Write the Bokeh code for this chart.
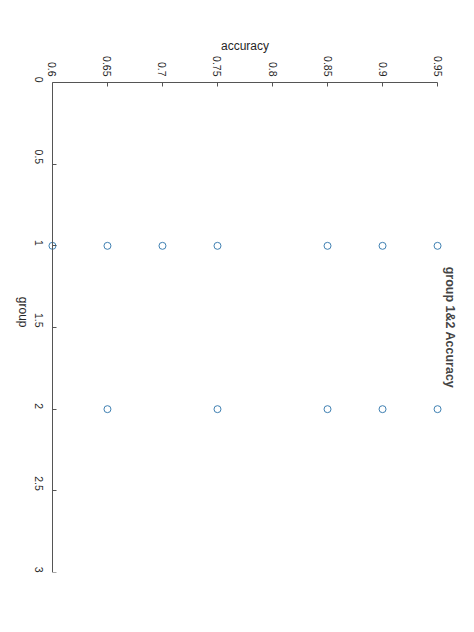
import math
from bokeh.plotting import figure
from bokeh.models import Range1d, FixedTicker, CustomJSTickFormatter, LinearAxis
from bokeh.embed import file_html
from bokeh.resources import INLINE

# accuracy values per group
group_1 = [0.6, 0.65, 0.7, 0.75, 0.85, 0.9, 0.95]
group_2 = [0.65, 0.75, 0.85, 0.9, 0.95]
acc_ticks = [0.6, 0.65, 0.7, 0.75, 0.8, 0.85, 0.9, 0.95]
group_ticks = [0, 0.5, 1, 1.5, 2, 2.5, 3]

FONT = "Liberation Sans"
AXIS_COLOR = "#555555"
MARKER = "#3f80b2"

# small padding so the markers sitting on 0.6 / 0.95 are not cut by the frame
pad = 0.0045

# the original is a matlab figure turned on its side: accuracy runs along the top,
# group runs downwards on the left
p = figure(frame_width=395, frame_height=490, output_backend="svg", toolbar_location=None,
           x_range=Range1d(0.6 - pad, 0.95 + pad), y_range=Range1d(3, 0),
           x_axis_location="above", title="group 1&2 Accuracy", title_location="right",
           min_border_left=47, min_border_right=10, min_border_top=82, min_border_bottom=40)

p.scatter(group_1, [1] * len(group_1), marker="circle", size=7, fill_color=None,
          line_color=MARKER, line_width=1)
p.scatter(group_2, [2] * len(group_2), marker="circle", size=7, fill_color=None,
          line_color=MARKER, line_width=1)

p.title.text_font = FONT
p.title.text_font_size = "12.5px"
p.title.text_font_style = "bold"
p.title.align = "center"
p.title.standoff = 0
p.title.offset = 0

p.grid.visible = False
p.outline_line_color = None
p.background_fill_color = "white"
p.border_fill_color = "white"

fmt = CustomJSTickFormatter(code="return (Math.round(tick*100)/100).toString()")
blank = CustomJSTickFormatter(code="return ''")

xa = p.xaxis[0]
xa.ticker = FixedTicker(ticks=acc_ticks)
xa.formatter = fmt
xa.bounds = (0.6, 0.95)
xa.axis_label = "accuracy"
xa.major_label_orientation = -math.pi / 2
xa.major_label_standoff = 6
xa.axis_label_standoff = 0

# group axis line + ticks, pinned on accuracy 0.6
ya = p.yaxis[0]
ya.ticker = FixedTicker(ticks=group_ticks)
ya.formatter = blank
ya.bounds = (0, 3)
ya.fixed_location = 0.6
ya.major_label_standoff = 0

# group tick labels and axis title (no line of its own)
yl = LinearAxis(ticker=FixedTicker(ticks=group_ticks), formatter=fmt, axis_label="group")
yl.axis_line_color = None
yl.major_tick_line_color = None
yl.major_label_orientation = -math.pi / 2
yl.axis_label_orientation = -math.pi / 2
yl.major_label_standoff = 9
p.add_layout(yl, "left")

for ax in (xa, ya, yl):
    if ax is not yl:
        ax.axis_line_color = AXIS_COLOR
        ax.major_tick_line_color = AXIS_COLOR
    ax.major_tick_in = 4
    ax.major_tick_out = 0
    ax.minor_tick_line_color = None
    ax.major_label_text_font = FONT
    ax.major_label_text_font_size = "10.5px"
    ax.major_label_text_color = "#262626"
    ax.axis_label_text_font = FONT
    ax.axis_label_text_font_size = "12px"
    ax.axis_label_text_font_style = "normal"
    ax.axis_label_text_color = "#262626"
yl.axis_label_standoff = 5

open("out.html", "w").write(file_html(p, INLINE))
